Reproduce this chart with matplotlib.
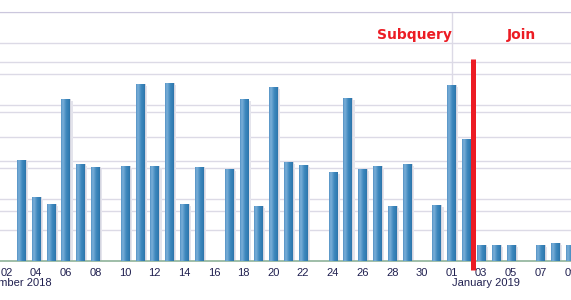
import numpy as np
import pandas as pd
import matplotlib
matplotlib.use("Agg")
import matplotlib.pyplot as plt
import matplotlib.dates as mdates
from matplotlib.ticker import MultipleLocator, FixedLocator
from matplotlib.colors import LinearSegmentedColormap
import matplotlib.transforms as mtransforms

# ---- data ----
dates = pd.date_range("2018-12-02", "2019-01-09", freq="D")
values = [0, 32.5, 20.6, 18.3, 52.1, 31.2, 30.3,
          0, 30.5, 56.9, 30.5, 57.2, 18.3, 30.2,
          0, 29.6, 52.1, 17.7, 55.9, 31.8, 30.9,
          0, 28.6, 52.4, 29.6, 30.5, 17.7, 31.2,
          0, 18.0, 56.6, 39.2, 5.1, 5.1, 5.1,
          0, 5.1, 5.8, 5.1]
tick_dates = pd.date_range("2018-12-02", "2019-01-09", freq="2D")
month_labels = ["December 2018", "January 2019"]
month_starts = [pd.Timestamp("2018-12-01"), pd.Timestamp("2019-01-01")]
switch_date = pd.Timestamp("2019-01-02") + pd.Timedelta(hours=10)
phase_labels = ["Subquery", "Join"]

RED = "#ec1c24"
TXT = "#202050"
GRID = "#dcdae6"

fig = plt.figure(figsize=(5.71, 3.0), dpi=100)
ax = fig.add_axes([0, 0.13, 1, 0.83])

x = mdates.date2num(dates.to_pydatetime())
base = mdates.date2num(pd.Timestamp("2018-12-01").to_pydatetime())
ax.set_xlim(base + 0.569, base + 39.05)
ax.set_ylim(0, 80)

w = 0.58
# shadows
ax.bar(x + 0.17, [max(v - 0.6, 0) for v in values], width=w, color="#e4e4ec",
       zorder=2, linewidth=0)
ax.bar(x + 0.09, values, width=w, color="#d4d5e0", zorder=2, linewidth=0)
bars = ax.bar(x, values, width=w, color="#3a84ba", zorder=3, linewidth=0)

cmap = LinearSegmentedColormap.from_list(
    "barg", ["#4f8fc2", "#7fb2da", "#5d9ccc", "#3d86bc", "#3580b6", "#2c74aa"])
grad = np.linspace(0, 1, 64).reshape(1, -1)
for b in bars:
    if b.get_height() <= 0:
        continue
    x0 = b.get_x()
    im = ax.imshow(grad, cmap=cmap, aspect="auto",
                   extent=[x0, x0 + b.get_width(), 0, b.get_height()],
                   zorder=4, interpolation="bicubic")
    im.set_clip_path(b)

ax.set_xlim(base + 0.569, base + 39.05)
ax.set_ylim(0, 80)

# grid
ax.yaxis.set_major_locator(MultipleLocator(10))
ax.yaxis.set_minor_locator(MultipleLocator(16))
ax.grid(True, axis="y", which="both", color=GRID, linewidth=1, zorder=0)
ax.set_axisbelow(True)
ax.tick_params(axis="y", which="both", left=False, labelleft=False)
ax.axvline(mdates.date2num(month_starts[1].to_pydatetime()), color=GRID,
           linewidth=1, zorder=1)

for s in ["left", "right"]:
    ax.spines[s].set_visible(False)
ax.spines["top"].set_color("#cbc7dd")
ax.spines["bottom"].set_color("#8fb39a")
ax.spines["bottom"].set_linewidth(1.2)

ax.xaxis.set_major_locator(FixedLocator(mdates.date2num(tick_dates.to_pydatetime())))
ax.xaxis.set_major_formatter(mdates.DateFormatter("%d"))
ax.tick_params(axis="x", length=0, pad=5, labelsize=8, labelcolor=TXT)
for lab in ax.get_xticklabels():
    lab.set_family("Liberation Sans")

trans = mtransforms.blended_transform_factory(ax.transData, ax.transAxes)
ax.text(base + 4.07, -0.09, month_labels[0], transform=trans, ha="right",
        va="center", fontsize=8, color=TXT, family="Liberation Sans")
ax.text(mdates.date2num(month_starts[1].to_pydatetime()), -0.09, month_labels[1],
        transform=trans, ha="left", va="center", fontsize=8, color=TXT,
        family="Liberation Sans")

sx = mdates.date2num(switch_date.to_pydatetime())
ax.plot([sx, sx], [-2.9, 65], color=RED, linewidth=3.6, zorder=6,
        clip_on=False, solid_capstyle="butt")
ax.text(base + 28.5, 72.7, phase_labels[0], color=RED, fontsize=10,
        fontweight="bold", ha="center", va="center", zorder=7)
ax.text(base + 35.74, 72.7, phase_labels[1], color=RED, fontsize=10,
        fontweight="bold", ha="center", va="center", zorder=7)

fig.savefig("out.png", dpi=100)
